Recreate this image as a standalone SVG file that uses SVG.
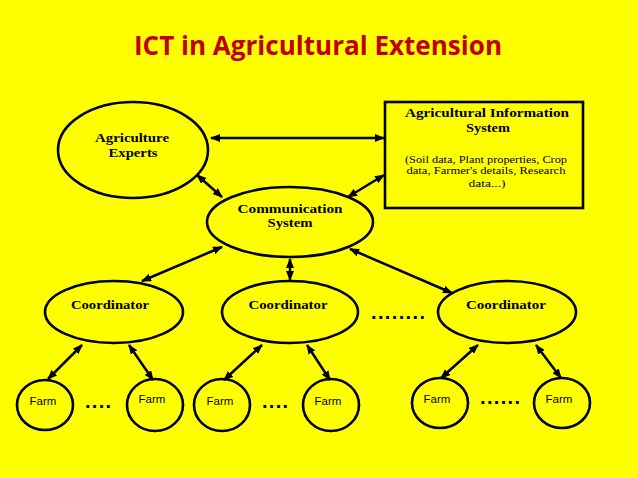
<svg xmlns="http://www.w3.org/2000/svg" width="638" height="478" viewBox="0 0 638 478">
<defs>
<marker id="ah" viewBox="0 0 10 8" refX="9" refY="4" markerWidth="10" markerHeight="8" markerUnits="userSpaceOnUse" orient="auto-start-reverse">
<path d="M0,0 L10,4 L0,8 z" fill="#000"/>
</marker>
<style>
.shape{fill:#FFFF00;stroke:#000;stroke-width:2.6}
.lbl{font-family:"Liberation Serif","Times New Roman",serif;font-weight:bold;font-size:12px;fill:#000;text-anchor:middle}
.small{font-family:"Liberation Serif","Times New Roman",serif;font-size:10.5px;fill:#000;text-anchor:middle}
.farm{font-family:"Liberation Sans",Arial,sans-serif;font-size:11.5px;fill:#000;text-anchor:middle}
.dots{font-family:"Liberation Sans",Arial,sans-serif;font-weight:bold;font-size:20px;fill:#000}
.conn line{stroke:#000;stroke-width:2.5;marker-start:url(#ah);marker-end:url(#ah)}
</style>
</defs>
<rect x="0" y="0" width="638" height="478" fill="#FFFF00"/>
<text x="318" y="55" font-family="'Open Sans',Lato,sans-serif" font-weight="bold" font-size="27" fill="#C00000" text-anchor="middle" textLength="368" lengthAdjust="spacingAndGlyphs">ICT in Agricultural Extension</text>

<g id="experts">
<ellipse class="shape" cx="133" cy="150" rx="75" ry="48"/>
<text class="lbl" x="132" y="142" textLength="74" lengthAdjust="spacingAndGlyphs">Agriculture</text>
<text class="lbl" x="133" y="157" textLength="49" lengthAdjust="spacingAndGlyphs">Experts</text>
</g>
<g id="ais">
<rect class="shape" x="385" y="102" width="198" height="106" stroke-width="3"/>
<text class="lbl" x="487" y="117" textLength="164" lengthAdjust="spacingAndGlyphs">Agricultural Information</text>
<text class="lbl" x="488" y="132" textLength="44" lengthAdjust="spacingAndGlyphs">System</text>
<text class="small" x="486" y="163" textLength="162" lengthAdjust="spacingAndGlyphs">(Soil data, Plant properties, Crop</text>
<text class="small" x="486" y="174" textLength="159" lengthAdjust="spacingAndGlyphs">data, Farmer's details, Research</text>
<text class="small" x="487" y="187" textLength="37" lengthAdjust="spacingAndGlyphs">data...)</text>
</g>
<g id="comm">
<ellipse class="shape" cx="290" cy="222" rx="83" ry="35"/>
<text class="lbl" x="290" y="213" textLength="105" lengthAdjust="spacingAndGlyphs">Communication</text>
<text class="lbl" x="290" y="227" textLength="45" lengthAdjust="spacingAndGlyphs">System</text>
</g>
<g id="coord1">
<ellipse class="shape" cx="114" cy="312" rx="69" ry="31"/>
<text class="lbl" x="110" y="309" textLength="78" lengthAdjust="spacingAndGlyphs">Coordinator</text>
</g>
<g id="coord2">
<ellipse class="shape" cx="290" cy="312" rx="68" ry="31"/>
<text class="lbl" x="288" y="309" textLength="79" lengthAdjust="spacingAndGlyphs">Coordinator</text>
</g>
<g id="coord3">
<ellipse class="shape" cx="507" cy="312" rx="69" ry="31"/>
<text class="lbl" x="506" y="309" textLength="80" lengthAdjust="spacingAndGlyphs">Coordinator</text>
</g>
<g id="farm1"><ellipse class="shape" cx="45" cy="405" rx="28" ry="25"/><text class="farm" x="43" y="405">Farm</text></g>
<g id="farm2"><ellipse class="shape" cx="155" cy="405" rx="28" ry="26"/><text class="farm" x="152" y="403">Farm</text></g>
<g id="farm3"><ellipse class="shape" cx="222" cy="405" rx="28" ry="26"/><text class="farm" x="220" y="405">Farm</text></g>
<g id="farm4"><ellipse class="shape" cx="331" cy="405" rx="28" ry="26"/><text class="farm" x="328" y="405">Farm</text></g>
<g id="farm5"><ellipse class="shape" cx="440" cy="403" rx="28" ry="25"/><text class="farm" x="437" y="403">Farm</text></g>
<g id="farm6"><ellipse class="shape" cx="562" cy="403" rx="28" ry="25"/><text class="farm" x="559" y="403">Farm</text></g>

<g id="ellipsis">
<text class="dots" x="85" y="408" textLength="26" lengthAdjust="spacing">....</text>
<text class="dots" x="262" y="408" textLength="26" lengthAdjust="spacing">....</text>
<text class="dots" x="371" y="319" textLength="54" lengthAdjust="spacing">........</text>
<text class="dots" x="480" y="404" textLength="40" lengthAdjust="spacing">......</text>
</g>

<g id="connectors" class="conn">
<line x1="211" y1="138" x2="384" y2="138"/>
<line x1="197" y1="175" x2="222" y2="197"/>
<line x1="348" y1="197" x2="384" y2="175"/>
<line x1="222" y1="247" x2="142" y2="281"/>
<line x1="290" y1="259" x2="290" y2="280"/>
<line x1="350" y1="249" x2="452" y2="293"/>
<line x1="82" y1="345" x2="48" y2="379"/>
<line x1="129" y1="345" x2="153" y2="380"/>
<line x1="262" y1="345" x2="224" y2="380"/>
<line x1="307" y1="345" x2="330" y2="380"/>
<line x1="478" y1="345" x2="441" y2="378"/>
<line x1="536" y1="345" x2="561" y2="378"/>
</g>
</svg>
